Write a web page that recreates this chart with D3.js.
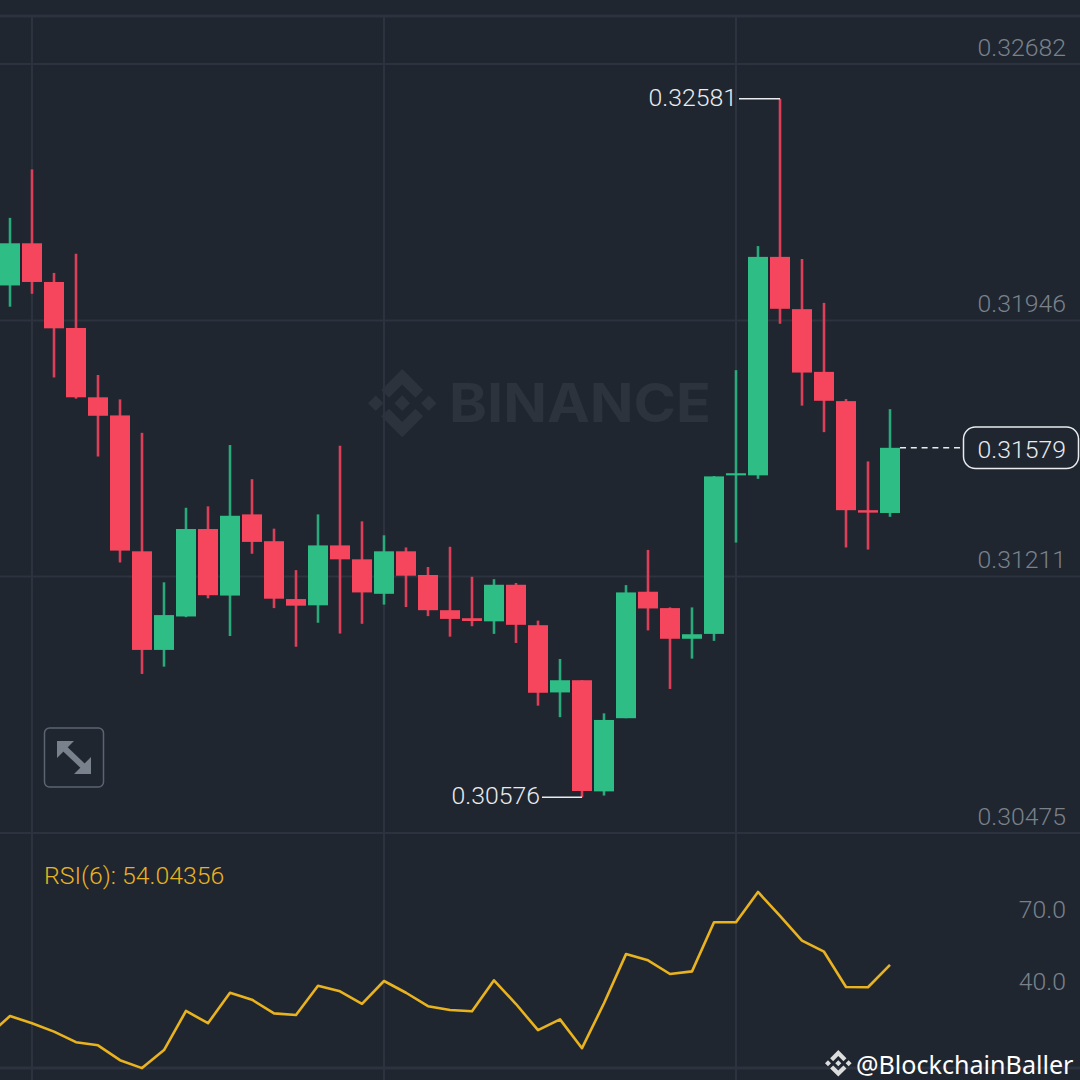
<!DOCTYPE html>
<html>
<head>
<meta charset="utf-8">
<script src="https://cdn.jsdelivr.net/npm/d3@7"></script>
<style>
    html, body { margin: 0; padding: 0; background: #1f2630; }
    svg { display: block; }
    text { font-family: Roboto, sans-serif; font-weight: 300; font-size: 24.8px; }
</style>
</head>
<body>
<div id="chart"></div>
<script>
// One entry per candle
const opens = [0.32045, 0.32166, 0.32055, 0.31923, 0.31724, 0.31672, 0.31282, 0.30999, 0.31095, 0.31346, 0.31155,
    0.31388, 0.31311, 0.31145, 0.31127, 0.31299, 0.31259, 0.31160, 0.31282, 0.31214, 0.31113, 0.31090, 0.31081,
    0.31186, 0.31070, 0.30877, 0.30912, 0.30593, 0.30803, 0.31166, 0.31119, 0.31031, 0.31045, 0.31500, 0.31500,
    0.32127, 0.31977, 0.31797, 0.31713, 0.31400, 0.31392];
const closes = [0.32166, 0.32055, 0.31922, 0.31724, 0.31671, 0.31284, 0.30999, 0.31099, 0.31346, 0.31156, 0.31384,
    0.31309, 0.31146, 0.31126, 0.31299, 0.31259, 0.31164, 0.31282, 0.31212, 0.31113, 0.31088, 0.31082, 0.31186,
    0.31071, 0.30876, 0.30912, 0.30594, 0.30798, 0.31164, 0.31118, 0.31031, 0.31044, 0.31497, 0.31506, 0.32127,
    0.31978, 0.31795, 0.31714, 0.31400, 0.31393, 0.31579];
const highs = [0.32239, 0.32378, 0.32081, 0.32136, 0.31788, 0.31718, 0.31622, 0.31193, 0.31407, 0.31411, 0.31587,
    0.31489, 0.31347, 0.31228, 0.31388, 0.31585, 0.31368, 0.31328, 0.31293, 0.31237, 0.31295, 0.31209, 0.31202,
    0.31191, 0.31083, 0.30973, 0.30912, 0.30817, 0.31185, 0.31286, 0.31121, 0.31121, 0.31498, 0.31802, 0.32158,
    0.32581, 0.32121, 0.31995, 0.31719, 0.31540, 0.31690];
const lows = [0.31984, 0.32021, 0.31781, 0.31720, 0.31554, 0.31250, 0.30930, 0.30951, 0.31093, 0.31147, 0.31039,
    0.31275, 0.31119, 0.31008, 0.31077, 0.31046, 0.31074, 0.31129, 0.31122, 0.31096, 0.31037, 0.31067, 0.31045,
    0.31019, 0.30839, 0.30806, 0.30576, 0.30581, 0.30803, 0.31055, 0.30887, 0.30974, 0.31025, 0.31307, 0.31490,
    0.31935, 0.31700, 0.31624, 0.31293, 0.31287, 0.31381];
// RSI starts one candle earlier, that candle is off the left edge
const rsiValues = [24.4, 32.7, 29.7, 26.2, 21.8, 20.5, 14.3, 11.0, 18.5, 34.8, 29.7, 42.4, 39.5, 33.8, 33.1, 45.3,
    43.0, 37.8, 47.3, 42.4, 36.8, 35.2, 34.7, 47.6, 37.7, 26.8, 31.3, 19.3, 38.0, 58.5, 55.9, 50.2, 51.3, 71.8,
    71.8, 84.4, 74.4, 64.1, 59.5, 44.8, 44.7, 54.04356];
const priceTicks = [0.32682, 0.31946, 0.31211, 0.30475];
const rsiTicks = [70, 40];
const timeGridCandles = [1, 17, 33];
const lastPrice = 0.31579;
const highestLabel = 0.32581;
const lowestLabel = 0.30576;

const GREEN = '#2ebd85', RED = '#f6465d', GREEN_WICK = '#2aa97a', RED_WICK = '#dc3f57';
const GRID = '#2d333e', AXIS_TEXT = '#7a818b', LABEL = '#e9ebee', YELLOW = '#e9b320', BG = '#1f2630';
const LOGO = 'M38.73 53.2l24.59-24.58 24.6 24.6 14.3-14.31L63.32 0 24.43 38.9z' +
    'M0 63.31l14.3-14.31 14.31 14.31-14.31 14.3z' +
    'M38.73 73.41L63.32 98l24.6-24.6 14.31 14.29-38.9 38.91L24.43 87.71z' +
    'M98.21 63.31l14.3-14.3 14.3 14.3-14.3 14.3z' +
    'M77.83 63.3L63.32 48.78 52.59 59.51l-1.24 1.23-2.54 2.54 14.51 14.5 14.51-14.52z';

function initChart(size) {
    return d3.select('#chart').append('svg')
        .attr('width', size)
        .attr('height', size)
        .attr('viewBox', `0 0 ${size} ${size}`);
}

function addWatermark(svg) {
    svg.append('path')
        .attr('d', LOGO)
        .attr('transform', 'translate(368,369) scale(0.54)')
        .attr('fill', '#2d333d');

    svg.append('text')
        .text('BINANCE')
        .attr('x', 449)
        .attr('y', 422)
        .attr('textLength', 262)
        .attr('lengthAdjust', 'spacingAndGlyphs')
        .style('font-family', 'Inter, sans-serif')
        .style('font-weight', 700)
        .style('font-size', '54px')
        .attr('fill', '#2d333d');
}

function addGrid(svg, x, price, rsi) {
    // Horizontal lines and price labels come from the axis
    let priceAxis = d3.axisRight(price)
        .tickValues(priceTicks)
        .tickSize(1080)
        .tickFormat(d3.format('.5f'));

    let priceGroup = svg.append('g').call(priceAxis);
    priceGroup.select('.domain').remove();
    priceGroup.selectAll('line').attr('stroke', GRID).attr('stroke-width', 2);
    priceGroup.selectAll('text')
        .attr('x', 1066)
        .attr('dy', '-0.33em')
        .attr('text-anchor', 'end')
        .attr('fill', AXIS_TEXT);

    let rsiAxis = d3.axisRight(rsi)
        .tickValues(rsiTicks)
        .tickSize(0)
        .tickFormat(d3.format('.1f'));

    let rsiGroup = svg.append('g').call(rsiAxis);
    rsiGroup.select('.domain').remove();
    rsiGroup.selectAll('text')
        .attr('x', 1066)
        .attr('dy', '-0.38em')
        .attr('text-anchor', 'end')
        .attr('fill', AXIS_TEXT);

    svg.append('g').selectAll('line')
        .data(timeGridCandles)
        .enter().append('line')
        .attr('x1', d => x(d))
        .attr('x2', d => x(d))
        .attr('y1', 16)
        .attr('y2', 1080)
        .attr('stroke', GRID)
        .attr('stroke-width', 2);

    // Pane borders
    svg.append('g').selectAll('line')
        .data([16, 1068])
        .enter().append('line')
        .attr('x1', 0)
        .attr('x2', 1080)
        .attr('y1', d => d)
        .attr('y2', d => d)
        .attr('stroke', GRID)
        .attr('stroke-width', 3);
}

function addCandles(svg, x, price) {
    let candles = svg.append('g').selectAll('g')
        .data(opens.map((d, i) => i))
        .enter().append('g');

    candles.append('line')
        .attr('x1', d => x(d))
        .attr('x2', d => x(d))
        .attr('y1', d => price(highs[d]))
        .attr('y2', d => price(lows[d]))
        .attr('stroke', d => closes[d] >= opens[d] ? GREEN_WICK : RED_WICK)
        .attr('stroke-width', 2.6);

    candles.append('rect')
        .attr('x', d => x(d) - 10)
        .attr('width', 20)
        .attr('y', d => price(Math.max(opens[d], closes[d])))
        .attr('height', d => Math.abs(price(opens[d]) - price(closes[d])))
        .attr('fill', d => closes[d] >= opens[d] ? GREEN : RED);
}

function addPriceMarks(svg, x, price) {
    let marks = [
        { value: highestLabel, candle: 35, textEnd: 737, lineStart: 739 },
        { value: lowestLabel, candle: 26, textEnd: 540, lineStart: 542 }
    ];

    marks.forEach(m => {
        svg.append('text')
            .text(d3.format('.5f')(m.value))
            .attr('x', m.textEnd)
            .attr('y', price(m.value))
            .attr('dy', '0.28em')
            .attr('text-anchor', 'end')
            .attr('fill', LABEL);

        svg.append('line')
            .attr('x1', m.lineStart)
            .attr('x2', x(m.candle))
            .attr('y1', price(m.value))
            .attr('y2', price(m.value))
            .attr('stroke', LABEL)
            .attr('stroke-width', 1.5);
    });

    // Last price tag
    svg.append('line')
        .attr('x1', x(40) + 10)
        .attr('x2', 960)
        .attr('y1', price(lastPrice))
        .attr('y2', price(lastPrice))
        .attr('stroke', LABEL)
        .attr('stroke-width', 1.5)
        .attr('stroke-dasharray', '6 4.8');

    svg.append('rect')
        .attr('x', 963.5)
        .attr('y', 427)
        .attr('width', 115)
        .attr('height', 41.5)
        .attr('rx', 12)
        .attr('fill', BG)
        .attr('stroke', LABEL)
        .attr('stroke-width', 1.5);

    svg.append('text')
        .text(d3.format('.5f')(lastPrice))
        .attr('x', 1066)
        .attr('y', 449.5)
        .attr('dy', '0.35em')
        .attr('text-anchor', 'end')
        .attr('fill', LABEL);
}

function addExpandButton(svg) {
    let button = svg.append('g');

    button.append('rect')
        .attr('x', 44.5)
        .attr('y', 728)
        .attr('width', 59)
        .attr('height', 59)
        .attr('rx', 5)
        .attr('fill', 'none')
        .attr('stroke', '#5b6470')
        .attr('stroke-width', 1.5);

    button.append('path')
        .attr('d', 'M57 741H74L57 758ZM91 774H74L91 757Z')
        .attr('fill', '#78818c');

    button.append('line')
        .attr('x1', 64)
        .attr('y1', 748)
        .attr('x2', 84)
        .attr('y2', 767)
        .attr('stroke', '#78818c')
        .attr('stroke-width', 6);
}

function addRsi(svg, x, rsi) {
    let line = d3.line()
        .x((d, i) => x(i - 1))
        .y(d => rsi(d));

    svg.append('path')
        .datum(rsiValues)
        .attr('d', line)
        .attr('fill', 'none')
        .attr('stroke', YELLOW)
        .attr('stroke-width', 2.6)
        .attr('stroke-linejoin', 'round');

    svg.append('text')
        .text('RSI(6): ' + d3.format('.5f')(rsiValues[rsiValues.length - 1]))
        .attr('x', 44)
        .attr('y', 876)
        .attr('dy', '0.32em')
        .attr('fill', YELLOW);
}

function addCredit(svg) {
    svg.append('path')
        .attr('d', LOGO)
        .attr('transform', 'translate(825,1050) scale(0.21)')
        .attr('fill', '#dcdcdc');

    svg.append('text')
        .text('@BlockchainBaller')
        .attr('x', 856)
        .attr('y', 1065)
        .attr('dy', '0.35em')
        .attr('fill', '#ffffff')
        .style('font-family', '"Noto Sans", sans-serif')
        .style('font-weight', 400)
        .style('font-size', '25.1px');
}

let svg = initChart(1080);

let x = d3.scaleLinear().domain([0, 40]).range([10, 890]);
let price = d3.scaleLinear().domain([0.30475, 0.32682]).range([832.5, 63.5]);
let rsi = d3.scaleLinear().domain([40, 70]).range([998.5, 926.5]);

addWatermark(svg);
addGrid(svg, x, price, rsi);
addCandles(svg, x, price);
addPriceMarks(svg, x, price);
addExpandButton(svg);
addRsi(svg, x, rsi);
addCredit(svg);
</script>
</body>
</html>
